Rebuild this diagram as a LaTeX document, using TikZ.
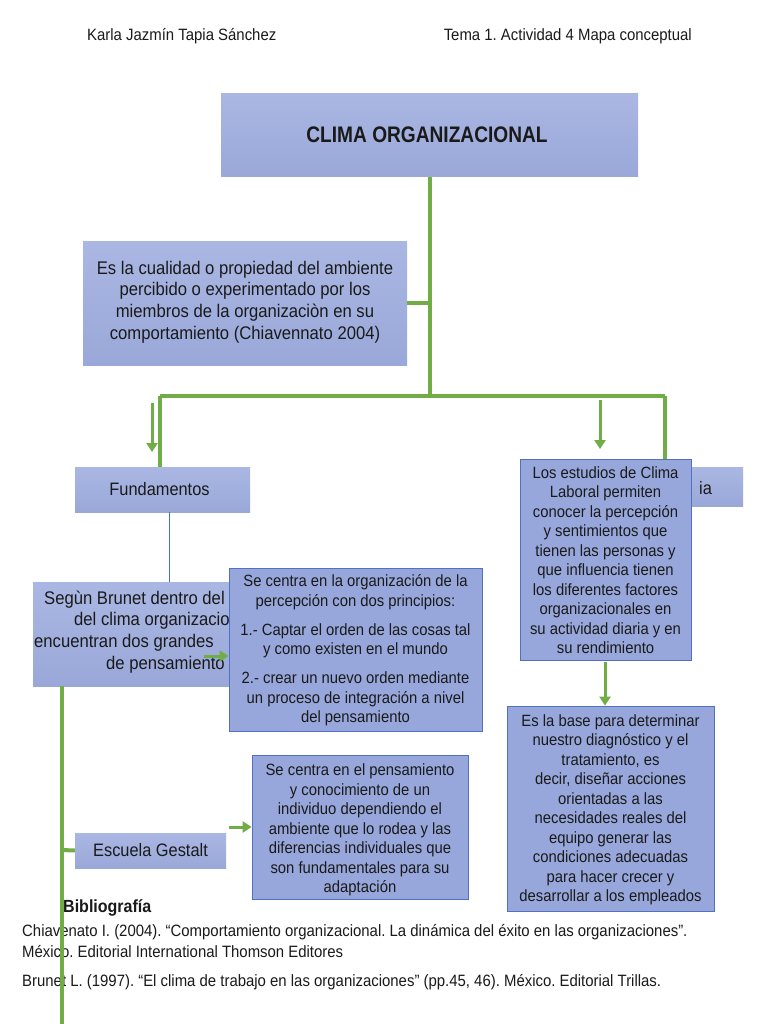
\documentclass[tikz,border=0pt]{standalone}
\usepackage{fontspec}
\setmainfont{Liberation Sans}[FakeStretch=0.91]
\newfontfamily\titlefont{Liberation Sans}[FakeStretch=0.85]
\usetikzlibrary{arrows.meta}
\AtBeginDocument{\frenchspacing}
\definecolor{grn}{HTML}{70AD47}
\definecolor{bigtop}{HTML}{AAB7E3}
\definecolor{bigbot}{HTML}{9AA8D9}
\definecolor{smallfill}{HTML}{97A7DB}
\definecolor{smalldraw}{HTML}{5070C2}
\definecolor{thinblue}{HTML}{4472C4}
\definecolor{txt}{HTML}{1A1A1A}
\begin{document}
\begin{tikzpicture}[x=1pt,y=-1pt,
  every node/.append style={execute at begin node=\frenchspacing},
  bigbox/.style={top color=bigtop,bottom color=bigbot,draw=none,inner sep=0pt},
  smallbox/.style={fill=smallfill,draw=smalldraw,line width=0.8pt,inner sep=0pt},
  bigtext/.style={text=txt,align=center,inner sep=0pt,font=\fontsize{18.3}{21.7}\selectfont},
  smalltext/.style={text=txt,align=center,inner sep=0pt,font=\fontsize{16.3}{19.5}\selectfont},
  plaintext/.style={text=txt,inner sep=0pt,font=\fontsize{16.4}{20}\selectfont},
  link/.style={draw=grn,line width=4pt},
  garrow/.style={draw=grn,line width=3pt,-{Triangle[width=11pt,length=9pt]}},
  thin/.style={draw=thinblue,line width=0.8pt}]
\useasboundingbox (0,0) rectangle (768,1024);
\fill[white] (0,0) rectangle (768,1024);

% header
\node[plaintext,anchor=west] (autor) at (87,36) {Karla Jazmín Tapia Sánchez};
\node[plaintext,anchor=east] (tema) at (692,36) {Tema 1. Actividad 4 Mapa conceptual};

% title
\node[bigbox,minimum width=417pt,minimum height=83pt] (titulo) at (429.5,135.5) {};
\node[text=txt,inner sep=0pt,font=\titlefont\bfseries\fontsize{22.5}{26}\selectfont] (titulot) at (427,135) {CLIMA ORGANIZACIONAL};

% definition
\node[bigbox,minimum width=324pt,minimum height=124pt] (def) at (245,303) {};
\node[bigtext] (deft) at (245,302) {Es la cualidad o propiedad del ambiente\\percibido o experimentado por los\\miembros de la organizaciòn en su\\comportamiento (Chiavennato 2004)};

% trunk connectors
\coordinate (j1) at (430,303);
\coordinate (j2) at (430,396);
\coordinate (jl) at (160,396);
\coordinate (jr) at (665,396);
\draw[link] (titulo.south -| j1) -- (j2);
\draw[link] (def.east) -- (j1);
\draw[link] (jl) -- (jr);

% Fundamentos
\node[bigbox,minimum width=175pt,minimum height=45pt] (fund) at (162.5,489.5) {};
\node[bigtext,font=\fontsize{18}{21}\selectfont] (fundt) at (159.5,489) {Fundamentos};
\draw[link] (jl) -- (jl |- fund.north);

% right hidden box
\node[bigbox,minimum width=163pt,minimum height=39pt] (imp) at (661.5,486.5) {};
\node[bigtext,font=\fontsize{18}{21}\selectfont,anchor=base west] (impt) at (699,494) {ia};
\draw[link] (jr) -- (jr |- imp.north);

% down arrows
\coordinate (a1s) at (152,403);
\coordinate (a1e) at (152,452);
\draw[garrow] (a1s) -- (a1e);
\coordinate (a2s) at (600,400);
\coordinate (a2e) at (600,449);
\draw[garrow] (a2s) -- (a2e);

% Los estudios
\node[smallbox,minimum width=171pt,minimum height=201pt] (estudios) at (605.5,559.5) {};
\node[smalltext] (estudiost) at (605.5,560) {Los estudios de Clima\\Laboral permiten\\conocer la percepción\\y sentimientos que\\tienen las personas y\\que influencia tienen\\los diferentes factores\\organizacionales en\\su actividad diaria y en\\su rendimiento};

% Es la base
\node[smallbox,minimum width=207pt,minimum height=205pt] (base) at (610.5,808.5) {};
\node[smalltext] (baset) at (610.5,810) {Es la base para determinar\\nuestro diagnóstico y el\\tratamiento, es\\decir, diseñar acciones\\orientadas a las\\necesidades reales del\\equipo generar las\\condiciones adecuadas\\para hacer crecer y\\desarrollar a los empleados};
\coordinate (a3s) at (605,662);
\draw[garrow] (a3s) -- (a3s |- base.north);

% Brunet
\node[bigbox,minimum width=267pt,minimum height=104pt] (brunet) at (166.5,634) {};
\node[bigtext,anchor=base west] (br1) at (44,604) {Segùn Brunet dentro del};
\node[bigtext,anchor=base west] (br2) at (74,625.5) {del clima organizacion};
\node[bigtext,anchor=base west] (br3) at (34,647) {encuentran dos grandes};
\node[bigtext,anchor=base west] (br4) at (106,669) {de pensamiento};
\draw[thin] (fund.south -| 169,0) -- (brunet.north -| 169,0);

% Se centra (percepcion)
\node[smallbox,minimum width=253pt,minimum height=163pt] (perc) at (355.5,649.5) {};
\node[smalltext] (perct) at (355.5,650.5) {Se centra en la organización de la\\percepción con dos principios:\\[9.5pt]1.- Captar el orden de las cosas tal\\y como existen en el mundo\\[9.5pt]2.- crear un nuevo orden mediante\\un proceso de integración a nivel\\del pensamiento};
\coordinate (a4s) at (204,656);
\draw[garrow] (a4s) -- (a4s -| perc.west);

% Escuela Gestalt
\node[bigbox,minimum width=151pt,minimum height=35pt] (gest) at (150.5,850.5) {};
\node[bigtext,font=\fontsize{18}{21}\selectfont] (gestt) at (150.5,850) {Escuela Gestalt};
\node[smallbox,minimum width=216pt,minimum height=144pt] (gestd) at (360,827) {};
\node[smalltext] (gestdt) at (360,830) {Se centra en el pensamiento\\y conocimiento de un\\individuo dependiendo el\\ambiente que lo rodea y las\\diferencias individuales que\\son fundamentales para su\\adaptación};
\coordinate (a5s) at (229,827);
\draw[garrow] (a5s) -- (gestd.west);

% bibliography
\node[plaintext,font=\bfseries\fontsize{17.6}{20}\selectfont,anchor=west] (biblio) at (63,908) {Bibliografía};
\node[plaintext,anchor=west] (ref1) at (22,932) {Chiavenato I. (2004). “Comportamiento organizacional. La dinámica del éxito en las organizaciones”.};
\node[plaintext,anchor=west] (ref1b) at (22,952) {México. Editorial International Thomson Editores};
\node[plaintext,anchor=west] (ref2) at (22,982) {Brunet L. (1997). “El clima de trabajo en las organizaciones” (pp.45, 46). México. Editorial Trillas.};

% left trunk
\coordinate (lb) at (62,1024);
\coordinate (lg) at (62,850);
\draw[link] (62,686) -- (lb);
\draw[link] (lg) -- (gest.west);
\end{tikzpicture}
\end{document}
